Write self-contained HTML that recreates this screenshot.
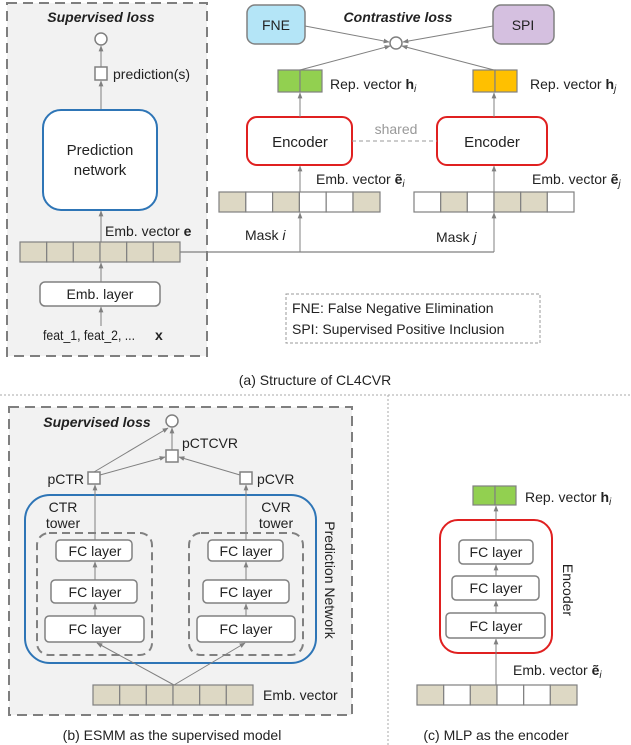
<!DOCTYPE html>
<html><head><meta charset="utf-8"><style>
html,body{margin:0;padding:0;background:#fff}
svg{display:block}
text{font-family:"Liberation Sans",sans-serif;fill:#222}
</style></head><body>
<svg width="631" height="745" viewBox="0 0 631 745" xmlns="http://www.w3.org/2000/svg">
<defs>
<marker id="a" viewBox="0 0 10 10" refX="9" refY="5" markerWidth="6" markerHeight="6" orient="auto"><path d="M0,1 L10,5 L0,9 z" fill="#808080"/></marker>
</defs>
<g font-size="14">
<rect x="7" y="3" width="200" height="353" fill="#f2f2f2" stroke="#7f7f7f" stroke-width="2" stroke-dasharray="10,6"/>
<text x="101" y="22" text-anchor="middle" font-weight="bold" font-style="italic">Supervised loss</text>
<circle cx="101" cy="39" r="6" fill="#fff" stroke="#808080" stroke-width="1.5"/>
<line x1="101" y1="67" x2="101" y2="46" stroke="#808080" marker-end="url(#a)"/>
<rect x="95" y="67" width="12" height="13" fill="#fff" stroke="#808080" stroke-width="1.5"/>
<text x="113" y="79">prediction(s)</text>
<line x1="101" y1="110" x2="101" y2="81" stroke="#808080" marker-end="url(#a)"/>
<rect x="43" y="110" width="114" height="100" rx="18" fill="#fff" stroke="#2e75b6" stroke-width="2"/>
<text x="100" y="155" text-anchor="middle" font-size="15">Prediction</text>
<text x="100" y="175" text-anchor="middle" font-size="15">network</text>
<line x1="101" y1="242" x2="101" y2="211" stroke="#808080" marker-end="url(#a)"/>
<text x="105" y="236">Emb. vector <tspan font-weight="bold">e</tspan></text>
<g fill="#ddd8c4" stroke="#808080" stroke-width="1.2">
<rect x="20" y="242" width="26.7" height="20"/><rect x="46.7" y="242" width="26.7" height="20"/><rect x="73.3" y="242" width="26.7" height="20"/><rect x="100" y="242" width="26.7" height="20"/><rect x="126.7" y="242" width="26.7" height="20"/><rect x="153.3" y="242" width="26.7" height="20"/>
</g>
<line x1="101" y1="282" x2="101" y2="263" stroke="#808080" marker-end="url(#a)"/>
<rect x="40" y="282" width="120" height="24" rx="5" fill="#fff" stroke="#808080" stroke-width="1.5"/>
<text x="100" y="299" text-anchor="middle">Emb. layer</text>
<line x1="101" y1="326" x2="101" y2="307" stroke="#808080" marker-end="url(#a)"/>
<text x="43" y="340" font-size="14" textLength="92" lengthAdjust="spacingAndGlyphs">feat_1, feat_2, ...</text>
<text x="155" y="340" font-weight="bold">x</text>

<polyline points="180,252 494,252" fill="none" stroke="#808080" stroke-width="1.2"/>
<line x1="300" y1="252" x2="300" y2="213" stroke="#808080" marker-end="url(#a)"/>
<line x1="494" y1="252" x2="494" y2="213" stroke="#808080" marker-end="url(#a)"/>
<text x="245" y="240">Mask <tspan font-style="italic">i</tspan></text>
<text x="436" y="242">Mask <tspan font-style="italic">j</tspan></text>

<g stroke="#808080" stroke-width="1.2">
<rect x="219" y="192" width="26.8" height="20" fill="#ddd8c4"/><rect x="245.8" y="192" width="26.8" height="20" fill="#fff"/><rect x="272.6" y="192" width="26.8" height="20" fill="#ddd8c4"/><rect x="299.4" y="192" width="26.8" height="20" fill="#fff"/><rect x="326.2" y="192" width="26.8" height="20" fill="#fff"/><rect x="353" y="192" width="27" height="20" fill="#ddd8c4"/>
<rect x="414" y="192" width="26.7" height="20" fill="#fff"/><rect x="440.7" y="192" width="26.7" height="20" fill="#ddd8c4"/><rect x="467.3" y="192" width="26.7" height="20" fill="#fff"/><rect x="494" y="192" width="26.7" height="20" fill="#ddd8c4"/><rect x="520.7" y="192" width="26.7" height="20" fill="#ddd8c4"/><rect x="547.3" y="192" width="26.7" height="20" fill="#fff"/>
</g>
<text x="316" y="184">Emb. vector <tspan font-weight="bold">ẽ</tspan><tspan font-style="italic" font-size="10" dy="3">i</tspan></text>
<text x="532" y="184">Emb. vector <tspan font-weight="bold">ẽ</tspan><tspan font-style="italic" font-size="10" dy="3">j</tspan></text>
<line x1="300" y1="192" x2="300" y2="166" stroke="#808080" marker-end="url(#a)"/>
<line x1="494" y1="192" x2="494" y2="166" stroke="#808080" marker-end="url(#a)"/>

<rect x="247" y="117" width="105" height="48" rx="10" fill="#fff" stroke="#e02020" stroke-width="2"/>
<rect x="437" y="117" width="110" height="48" rx="10" fill="#fff" stroke="#e02020" stroke-width="2"/>
<text x="300" y="147" text-anchor="middle" font-size="15">Encoder</text>
<text x="492" y="147" text-anchor="middle" font-size="15">Encoder</text>
<line x1="352" y1="141" x2="437" y2="141" stroke="#999" stroke-dasharray="4,3"/>
<text x="396" y="134" text-anchor="middle" style="fill:#999">shared</text>
<line x1="300" y1="117" x2="300" y2="93" stroke="#808080" marker-end="url(#a)"/>
<line x1="494" y1="117" x2="494" y2="93" stroke="#808080" marker-end="url(#a)"/>

<g stroke="#808080" stroke-width="1.2">
<rect x="278" y="70" width="22" height="22" fill="#92d050"/><rect x="300" y="70" width="22" height="22" fill="#92d050"/>
<rect x="473" y="70" width="22" height="22" fill="#ffc000"/><rect x="495" y="70" width="22" height="22" fill="#ffc000"/>
</g>
<text x="330" y="89">Rep. vector <tspan font-weight="bold">h</tspan><tspan font-style="italic" font-size="10" dy="3">i</tspan></text>
<text x="530" y="89">Rep. vector <tspan font-weight="bold">h</tspan><tspan font-style="italic" font-size="10" dy="3">j</tspan></text>

<rect x="247" y="5" width="58" height="39" rx="8" fill="#b4e5f7" stroke="#808080" stroke-width="1.5"/>
<text x="276" y="30" text-anchor="middle">FNE</text>
<rect x="493" y="5" width="61" height="39" rx="8" fill="#d5c0e0" stroke="#808080" stroke-width="1.5"/>
<text x="523" y="30" text-anchor="middle">SPI</text>
<text x="398" y="22" text-anchor="middle" font-weight="bold" font-style="italic">Contrastive loss</text>
<circle cx="396" cy="43" r="6" fill="#fff" stroke="#808080" stroke-width="1.5"/>
<line x1="305" y1="26" x2="389" y2="42" stroke="#808080" marker-end="url(#a)"/>
<line x1="493" y1="26" x2="403" y2="42" stroke="#808080" marker-end="url(#a)"/>
<line x1="300" y1="70" x2="390" y2="46" stroke="#808080" marker-end="url(#a)"/>
<line x1="494" y1="70" x2="402" y2="46" stroke="#808080" marker-end="url(#a)"/>

<rect x="286" y="294" width="254" height="49" fill="#fff" stroke="#999" stroke-dasharray="3,2"/>
<text x="292" y="313">FNE: False Negative Elimination</text>
<text x="292" y="334">SPI: Supervised Positive Inclusion</text>
<text x="315" y="385" text-anchor="middle">(a) Structure of CL4CVR</text>

<line x1="0" y1="395" x2="631" y2="395" stroke="#aaa" stroke-dasharray="2,2"/>
<line x1="388" y1="395" x2="388" y2="745" stroke="#aaa" stroke-dasharray="2,2"/>

<rect x="9" y="407" width="343" height="308" fill="#f2f2f2" stroke="#7f7f7f" stroke-width="2" stroke-dasharray="10,6"/>
<text x="97" y="427" text-anchor="middle" font-weight="bold" font-style="italic">Supervised loss</text>
<circle cx="172" cy="421" r="6" fill="#fff" stroke="#808080" stroke-width="1.5"/>
<rect x="166" y="450" width="12" height="12" fill="#fff" stroke="#808080" stroke-width="1.5"/>
<text x="182" y="448">pCTCVR</text>
<rect x="88" y="472" width="12" height="12" fill="#fff" stroke="#808080" stroke-width="1.5"/>
<text x="84" y="484" text-anchor="end">pCTR</text>
<rect x="240" y="472" width="12" height="12" fill="#fff" stroke="#808080" stroke-width="1.5"/>
<text x="257" y="484">pCVR</text>
<line x1="94" y1="472" x2="168" y2="428" stroke="#808080" marker-end="url(#a)"/>
<line x1="100" y1="475" x2="165" y2="457" stroke="#808080" marker-end="url(#a)"/>
<line x1="240" y1="475" x2="179" y2="457" stroke="#808080" marker-end="url(#a)"/>
<line x1="172" y1="450" x2="172" y2="428" stroke="#808080" marker-end="url(#a)"/>
<rect x="25" y="495" width="291" height="168" rx="25" fill="none" stroke="#2e75b6" stroke-width="2"/>
<text x="63" y="512" text-anchor="middle">CTR</text><text x="63" y="528" text-anchor="middle">tower</text>
<text x="276" y="512" text-anchor="middle">CVR</text><text x="276" y="528" text-anchor="middle">tower</text>
<text transform="translate(325,580) rotate(90)" text-anchor="middle">Prediction Network</text>
<rect x="37" y="533" width="115" height="122" rx="12" fill="none" stroke="#808080" stroke-width="2" stroke-dasharray="8,5"/>
<rect x="189" y="533" width="114" height="122" rx="12" fill="none" stroke="#808080" stroke-width="2" stroke-dasharray="8,5"/>
<g fill="#fff" stroke="#808080" stroke-width="1.5">
<rect x="56" y="540" width="76" height="21" rx="4"/><rect x="51" y="580" width="86" height="23" rx="4"/><rect x="45" y="616" width="99" height="26" rx="4"/>
<rect x="208" y="540" width="75" height="21" rx="4"/><rect x="203" y="580" width="86" height="23" rx="4"/><rect x="197" y="616" width="98" height="26" rx="4"/>
</g>
<g text-anchor="middle">
<text x="95" y="556">FC layer</text><text x="95" y="597">FC layer</text><text x="95" y="634">FC layer</text>
<text x="246" y="556">FC layer</text><text x="246" y="597">FC layer</text><text x="246" y="634">FC layer</text>
</g>
<g stroke="#808080">
<line x1="95" y1="540" x2="95" y2="485" marker-end="url(#a)"/><line x1="246" y1="540" x2="246" y2="485" marker-end="url(#a)"/>
<line x1="95" y1="580" x2="95" y2="562" marker-end="url(#a)"/><line x1="246" y1="580" x2="246" y2="562" marker-end="url(#a)"/>
<line x1="95" y1="616" x2="95" y2="604" marker-end="url(#a)"/><line x1="246" y1="616" x2="246" y2="604" marker-end="url(#a)"/>
<line x1="174" y1="685" x2="97" y2="643" marker-end="url(#a)"/><line x1="174" y1="685" x2="245" y2="643" marker-end="url(#a)"/>
</g>
<g fill="#ddd8c4" stroke="#808080" stroke-width="1.2">
<rect x="93" y="685" width="26.7" height="20"/><rect x="119.7" y="685" width="26.7" height="20"/><rect x="146.3" y="685" width="26.7" height="20"/><rect x="173" y="685" width="26.7" height="20"/><rect x="199.7" y="685" width="26.7" height="20"/><rect x="226.3" y="685" width="26.7" height="20"/>
</g>
<text x="263" y="700">Emb. vector</text>
<text x="172" y="740" text-anchor="middle">(b) ESMM as the supervised model</text>

<g stroke="#808080" stroke-width="1.2">
<rect x="473" y="486" width="22" height="19" fill="#92d050"/><rect x="495" y="486" width="21" height="19" fill="#92d050"/>
</g>
<text x="525" y="502">Rep. vector <tspan font-weight="bold">h</tspan><tspan font-style="italic" font-size="10" dy="3">i</tspan></text>
<rect x="440" y="520" width="112" height="133" rx="18" fill="#fff" stroke="#e02020" stroke-width="2"/>
<text transform="translate(563,590) rotate(90)" text-anchor="middle">Encoder</text>
<g fill="#fff" stroke="#808080" stroke-width="1.5">
<rect x="459" y="540" width="74" height="24" rx="4"/><rect x="452" y="576" width="87" height="24" rx="4"/><rect x="446" y="613" width="99" height="25" rx="4"/>
</g>
<g text-anchor="middle">
<text x="496" y="557">FC layer</text><text x="496" y="593">FC layer</text><text x="496" y="631">FC layer</text>
</g>
<g stroke="#808080">
<line x1="496" y1="540" x2="496" y2="506" marker-end="url(#a)"/>
<line x1="496" y1="576" x2="496" y2="565" marker-end="url(#a)"/>
<line x1="496" y1="613" x2="496" y2="601" marker-end="url(#a)"/>
<line x1="496" y1="685" x2="496" y2="639" marker-end="url(#a)"/>
</g>
<text x="513" y="675">Emb. vector <tspan font-weight="bold">ẽ</tspan><tspan font-style="italic" font-size="10" dy="3">i</tspan></text>
<g stroke="#808080" stroke-width="1.2">
<rect x="417" y="685" width="26.7" height="20" fill="#ddd8c4"/><rect x="443.7" y="685" width="26.7" height="20" fill="#fff"/><rect x="470.3" y="685" width="26.7" height="20" fill="#ddd8c4"/><rect x="497" y="685" width="26.7" height="20" fill="#fff"/><rect x="523.7" y="685" width="26.7" height="20" fill="#fff"/><rect x="550.3" y="685" width="26.7" height="20" fill="#ddd8c4"/>
</g>
<text x="496" y="740" text-anchor="middle">(c) MLP as the encoder</text>
</g>
</svg>
</body></html>
